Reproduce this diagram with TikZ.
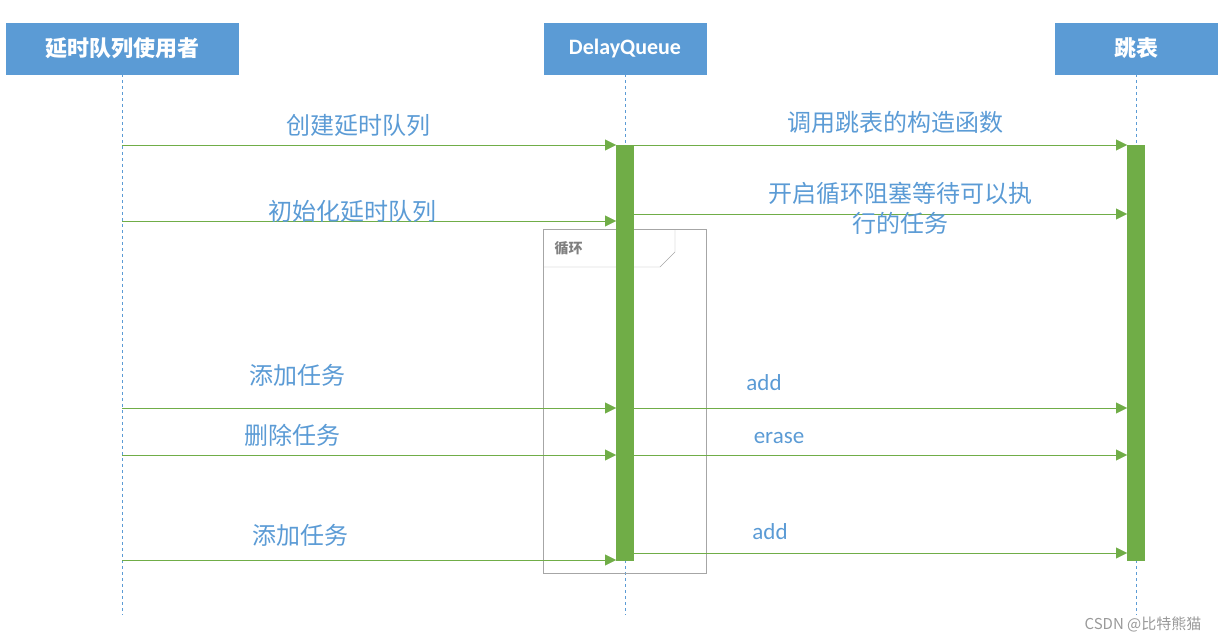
\documentclass[tikz,border=0pt]{standalone}
\usepackage{fontspec}
\setmainfont{Carlito}
\newfontfamily\cjk{Noto Sans CJK SC}
\usetikzlibrary{arrows.meta}
\definecolor{hb}{HTML}{5B9BD5}
\definecolor{gr}{HTML}{70AD47}
\tikzset{
 head/.style={fill=hb,draw=hb,text=white,font=\bfseries\fontsize{22}{26}\selectfont,minimum width=232pt,minimum height=51pt,inner sep=0pt},
 life/.style={draw=hb,dashed,thin},
 bar/.style={fill=gr,draw=none},
 msg/.style={draw=gr,-{Triangle[length=11pt,width=11pt]}},
 lbl/.style={text=hb,font=\cjk\fontsize{24}{28}\selectfont,inner sep=0pt},
 elbl/.style={text=hb,font=\fontsize{23}{27}\selectfont,inner sep=0pt}
}
\begin{document}
\begin{tikzpicture}[x=1pt,y=-1pt]
\useasboundingbox (0,0) rectangle (1226,642);
\node[head] (h1) at (122,48.5) {\cjk\bfseries 延时队列使用者};
\node[head,minimum width=162pt] (h2) at (625,48.5) {DelayQueue};
\node[head,minimum width=162pt] (h3) at (1136,48.5) {\cjk\bfseries 跳表};
\coordinate (e1) at (122,615); \coordinate (e2) at (625,615); \coordinate (e3) at (1136,615);
\draw[life] (h1.south) -- (e1);
\draw[life] (h2.south) -- (e2);
\draw[life] (h3.south) -- (e3);
% loop frame
\draw[gray!70] (543,229) rectangle (706,573);
\draw[gray!70] (543,267) -- (660,267) -- (675,252) -- (675,229);
\node[text=gray,font=\cjk\bfseries\fontsize{14}{16}\selectfont,anchor=west] (lp) at (551,248) {循环};
% bars
\fill[bar] (616,145) rectangle (634,561);
\fill[bar] (1127,145) rectangle (1145,561);
% messages
\foreach \n/\y in {a/145,b/221,c/408,d/455,e/560}{
 \coordinate (L\n) at (122,\y); \coordinate (M\n) at (616,\y);}
\foreach \n/\y in {a/145,b/214,c/408,d/455,e/553}{
 \coordinate (N\n) at (634,\y); \coordinate (R\n) at (1127,\y);}
\foreach \n in {a,b,c,d,e}{\draw[msg] (L\n) -- (M\n); \draw[msg] (N\n) -- (R\n);}
\node[lbl] (t1) at (358,125) {创建延时队列};
\node[lbl] (t2) at (895,122) {调用跳表的构造函数};
\node[lbl,align=center] (t4) at (900,208) {开启循环阻塞等待可以执\\[2pt]行的任务};
\node[lbl] (t3) at (352,211) {初始化延时队列};
\node[lbl] (t5) at (297,375) {添加任务};
\node[elbl] (t6) at (764,383) {add};
\node[lbl] (t7) at (292,435) {删除任务};
\node[elbl] (t8) at (779,438) {erase};
\node[lbl] (t9) at (300,535) {添加任务};
\node[elbl] (t10) at (770,532) {add};
\node[text=gray!80,font=\cjk\fontsize{15}{18}\selectfont] (wm) at (1143,624) {CSDN @比特熊猫};
\end{tikzpicture}
\end{document}
